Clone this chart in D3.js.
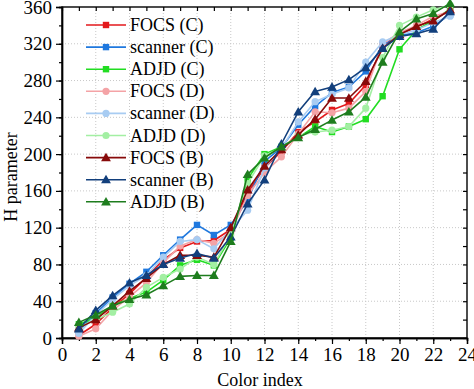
<!DOCTYPE html>
<html>
<head>
<meta charset="utf-8">
<script src="https://cdn.jsdelivr.net/npm/d3@7"></script>
<style>
  html, body { margin: 0; padding: 0; background: #fff; }
  svg { display: block; }
  svg text { font-family: "Liberation Serif", "Times New Roman", serif !important; fill: #000; }
</style>
</head>
<body>
<svg id="chart" width="474" height="389"></svg>
<script>
// ---- data ----
const colorIndex = d3.range(1, 24);
const seriesNames = ["FOCS (C)", "scanner (C)", "ADJD (C)", "FOCS (D)", "scanner (D)", "ADJD (D)", "FOCS (B)", "scanner (B)", "ADJD (B)"];
const focsC    = [3, 15, 33, 48, 66, 85, 98, 105, 106, 118, 158, 185, 203, 224, 235, 248, 255, 275, 318, 330, 338, 347, 356];
const scannerC = [8, 27, 44, 59, 72, 90, 107, 123, 112, 123, 150, 192, 207, 232, 252, 267, 273, 290, 318, 329, 332, 339, 352];
const adjdC    = [15, 22, 35, 43, 50, 63, 79, 85, 79, 109, 173, 200, 208, 218, 230, 224, 230, 238, 263, 314, 335, 345, 358];
const focsD    = [2, 10, 30, 45, 60, 82, 100, 107, 103, 115, 155, 180, 197, 222, 246, 245, 250, 268, 320, 332, 340, 350, 355];
const scannerD = [5, 25, 42, 57, 68, 88, 105, 107, 97, 118, 139, 185, 206, 235, 257, 265, 272, 300, 322, 330, 335, 343, 350];
const adjdD    = [12, 20, 28, 37, 55, 66, 75, 88, 80, 112, 168, 198, 207, 220, 224, 226, 230, 250, 305, 340, 349, 357, 362];
const focsB    = [11, 20, 35, 51, 65, 80, 90, 90, 88, 120, 161, 187, 205, 221, 238, 261, 261, 279, 315, 330, 339, 345, 357];
const scannerB = [10, 30, 46, 60, 68, 80, 87, 92, 87, 110, 146, 172, 211, 246, 268, 273, 281, 294, 315, 328, 331, 336, 355];
const adjdB    = [17, 25, 35, 42, 47, 57, 67, 68, 68, 105, 178, 196, 208, 218, 227, 237, 246, 262, 300, 333, 347, 353, 364];
const xTicks = d3.range(0, 25, 2);
const yTicks = d3.range(0, 361, 40);
const xTitle = "Color index";
const yTitle = "H parameter";

const seriesValues = [focsC, scannerC, adjdC, focsD, scannerD, adjdD, focsB, scannerB, adjdB];
const seriesColors = ["#e3191c", "#1f78de", "#22dd22", "#f4a3a6", "#a8ccf2", "#a3efa3", "#870a0a", "#123f7c", "#1e7d1e"];
const seriesShapes = ["square", "square", "square", "circle", "circle", "circle", "triangle", "triangle", "triangle"];

// ---- layout ----
const svg = d3.select("#chart");
const L = 62, R = 467, T = 7, B = 338;
const x = d3.scaleLinear().domain([0, 24]).range([L, R]);
const y = d3.scaleLinear().domain([0, 360]).range([B, T]);

// grid
const grid = svg.append("g").attr("stroke", "#c8c8c8").attr("stroke-width", 1).attr("stroke-dasharray", "1,2");
xTicks.filter(d => d > 0 && d < 24).forEach(d => {
  grid.append("line").attr("x1", x(d)).attr("x2", x(d)).attr("y1", T).attr("y2", B);
});
yTicks.filter(d => d > 0 && d < 360).forEach(d => {
  grid.append("line").attr("x1", L).attr("x2", R).attr("y1", y(d)).attr("y2", y(d));
});

// axes
const fontSize = 19;
const xMinor = d3.range(0, 25, 1);
const yMinor = d3.range(0, 361, 20);

svg.append("g").attr("transform", `translate(0,${B})`)
  .call(d3.axisBottom(x).tickValues(xMinor).tickSize(3).tickFormat(""));
svg.append("g").attr("transform", `translate(0,${B})`)
  .call(d3.axisBottom(x).tickValues(xTicks).tickSize(6).tickPadding(4).tickFormat(d3.format("d")))
  .call(g => g.selectAll("text").attr("font-size", fontSize));
svg.append("g").attr("transform", `translate(${L},0)`)
  .call(d3.axisLeft(y).tickValues(yMinor).tickSize(3).tickFormat(""));
svg.append("g").attr("transform", `translate(${L},0)`)
  .call(d3.axisLeft(y).tickValues(yTicks).tickSize(6).tickPadding(4).tickFormat(d3.format("d")))
  .call(g => g.selectAll("text").attr("font-size", fontSize));
// top and right (inward ticks)
svg.append("g").attr("transform", `translate(0,${T})`)
  .call(d3.axisBottom(x).tickValues(xMinor).tickSize(4).tickFormat(""))
  .call(g => g.select(".domain").remove());
svg.append("g").attr("transform", `translate(${R},0)`)
  .call(d3.axisLeft(y).tickValues(yMinor).tickSize(4).tickFormat(""))
  .call(g => g.select(".domain").remove());
svg.selectAll(".tick line").attr("stroke", "#000").attr("stroke-width", 1.2);
svg.selectAll(".domain").attr("stroke-width", 1.4);

// frame
svg.append("rect").attr("x", L).attr("y", T).attr("width", R - L).attr("height", B - T)
  .attr("fill", "none").attr("stroke", "#000").attr("stroke-width", 1.4);

// series
const line = d3.line().x((d, i) => x(colorIndex[i])).y(d => y(d));
function drawMarker(g, shape, cx, cy, color) {
  if (shape === "square") {
    g.append("rect").attr("x", cx - 3.2).attr("y", cy - 3.2).attr("width", 6.4).attr("height", 6.4).attr("fill", color);
  } else if (shape === "circle") {
    g.append("circle").attr("cx", cx).attr("cy", cy).attr("r", 3.6).attr("fill", color);
  } else {
    g.append("path").attr("d", d3.symbol().type(d3.symbolTriangle).size(42)()).attr("transform", `translate(${cx},${cy + 0.8})`).attr("fill", color);
  }
}
seriesValues.forEach((vals, si) => {
  const g = svg.append("g");
  g.append("path").datum(vals).attr("d", line).attr("fill", "none")
    .attr("stroke", seriesColors[si]).attr("stroke-width", 1.6).attr("stroke-linejoin", "round");
  vals.forEach((v, i) => drawMarker(g, seriesShapes[si], x(colorIndex[i]), y(v), seriesColors[si]));
});

// legend
const leg = svg.append("g");
seriesNames.forEach((name, si) => {
  const ly = 25 + si * 22.1;
  leg.append("line").attr("x1", 86).attr("x2", 126).attr("y1", ly).attr("y2", ly)
    .attr("stroke", seriesColors[si]).attr("stroke-width", 1.6);
  drawMarker(leg, seriesShapes[si], 106, ly, seriesColors[si]);
  leg.append("text").attr("x", 130).attr("y", ly + 6).attr("font-size", 18).text(name);
});

// axis titles
svg.append("text").attr("x", 260).attr("y", 386).attr("text-anchor", "middle").attr("font-size", 18).text(xTitle);
svg.append("text").attr("transform", "translate(17,177) rotate(-90)").attr("text-anchor", "middle").attr("font-size", 18).text(yTitle);
</script>
</body>
</html>
